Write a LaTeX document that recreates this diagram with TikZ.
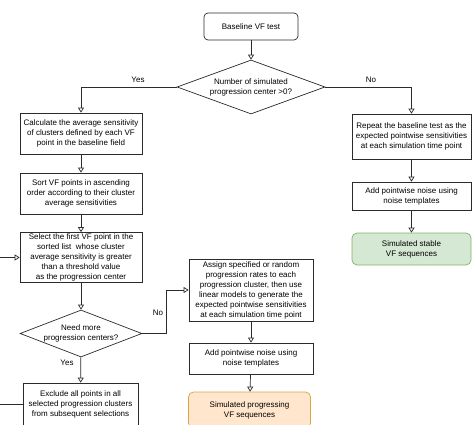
\documentclass[tikz,border=0pt]{standalone}
\usepackage{fontspec}
\setmainfont{Liberation Sans}
\usetikzlibrary{shapes.geometric,arrows.meta}
\definecolor{ln}{HTML}{2B2B2B}
\definecolor{orfill}{HTML}{FFE6CC}
\definecolor{ordraw}{HTML}{D9A441}
\definecolor{grfill}{HTML}{D5E8D4}
\definecolor{grdraw}{HTML}{82B366}
\begin{document}
\begin{tikzpicture}[x=1pt,y=-1pt,
  txt/.style={font=\fontsize{8}{10}\selectfont, align=center, inner sep=0pt},
  box/.style={txt, draw=ln, line width=0.7pt},
  dia/.style={txt, draw=ln, line width=0.7pt, diamond, aspect=2.7},
  lbl/.style={font=\fontsize{8}{10}\selectfont, inner sep=0pt},
  arr/.style={draw=ln, line width=0.7pt, -{Triangle[open,length=5pt,width=6pt]}}]
\useasboundingbox (0,0) rectangle (474,425);

\node[box, rounded corners=4pt, minimum width=94pt, minimum height=27pt] (base) at (251,26.5) {Baseline VF test};
\node[dia, minimum width=148pt, minimum height=54pt] (d1) at (251,87) {Number of simulated\\progression center >0?};

\node[box, minimum width=122pt, minimum height=41pt] (calc) at (81,133.5) {Calculate the average sensitivity\\of clusters defined by each VF\\point in the baseline field};
\node[box, minimum width=122pt, minimum height=41pt] (sort) at (81,193.5) {Sort VF points in ascending\\order according to their cluster\\average sensitivities};
\node[box, minimum width=122pt, minimum height=50pt] (sel) at (81,257.5) {Select the first VF point in the\\sorted list\ \ whose cluster\\average sensitivity is greater\\than a threshold value\\as the progression center};
\node[dia, minimum width=121pt, minimum height=47pt] (d2) at (81,333.5) {Need more\\progression centers?};
\node[box, minimum width=115pt, minimum height=43pt] (excl) at (80.5,404.5) {Exclude all points in all\\selected progression clusters\\from subsequent selections};

\node[box, minimum width=124pt, minimum height=62pt] (assign) at (251,290) {Assign specified or random\\progression rates to each\\progression cluster, then use\\linear models to generate the\\expected pointwise sensitivities\\at each simulation time point};
\node[box, minimum width=124pt, minimum height=31pt] (noise1) at (251,358.5) {Add pointwise noise using\\noise templates};
\node[box, draw=ordraw, fill=orfill, rounded corners=5pt, minimum width=122pt, minimum height=36pt] (prog) at (249.5,410) {Simulated progressing\\VF sequences};

\node[box, minimum width=119pt, minimum height=45pt] (rep) at (411.5,136.5) {Repeat the baseline test as the\\expected pointwise sensitivities\\at each simulation time point};
\node[box, minimum width=119pt, minimum height=28pt] (noise2) at (411.5,196) {Add pointwise noise using\\noise templates};
\node[box, draw=grdraw, fill=grfill, rounded corners=5pt, minimum width=119pt, minimum height=32pt] (stab) at (411.5,249) {Simulated stable\\VF sequences};

\node[lbl] (yes1) at (138,80) {Yes};
\node[lbl] (no1) at (371,80) {No};
\node[lbl] (yes2) at (67,363) {Yes};
\node[lbl] (no2) at (158,313) {No};

\coordinate (lp) at (-6,0);

\draw[arr] (base) -- (d1);
\draw[arr] (d1.west) -| (calc.north);
\draw[arr] (d1.east) -| (rep.north);
\draw[arr] (calc) -- (sort);
\draw[arr] (sort) -- (sel);
\draw[arr] (sel) -- (d2);
\draw[arr] (d2) -- (excl);
\draw[arr] (d2.east) -- ++(24,0) |- (assign.west);
\draw[arr] (assign) -- (noise1);
\draw[arr] (noise1) -- (prog);
\draw[arr] (rep) -- (noise2);
\draw[arr] (noise2) -- (stab);
\draw[arr] (excl.west) -- (excl.west -| lp) |- (sel.west);
\end{tikzpicture}
\end{document}
